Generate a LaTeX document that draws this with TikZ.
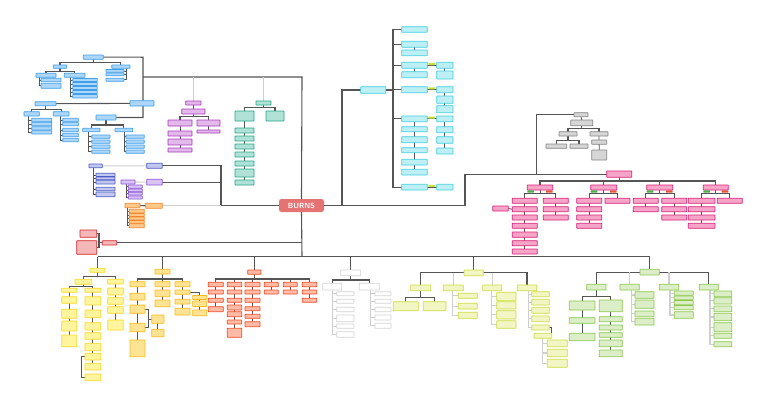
\documentclass[tikz,border=0pt]{standalone}
\usetikzlibrary{fit,backgrounds}
\definecolor{lnD}{HTML}{555555}
\definecolor{lnL}{HTML}{CFCFCF}
\definecolor{blF}{HTML}{ADD6F7}\definecolor{blD}{HTML}{3E9FEA}
\definecolor{puF}{HTML}{E3B8EA}\definecolor{puD}{HTML}{A93BBF}
\definecolor{teF}{HTML}{B0E2D7}\definecolor{teD}{HTML}{23A887}
\definecolor{cyF}{HTML}{BDEFF5}\definecolor{cyD}{HTML}{3FCFE0}
\definecolor{grF}{HTML}{D6D6D6}\definecolor{grD}{HTML}{858585}
\definecolor{piF}{HTML}{F5A6C8}\definecolor{piD}{HTML}{DD1F78}
\definecolor{inF}{HTML}{C2C7EE}\definecolor{inD}{HTML}{4B5AC8}
\definecolor{viF}{HTML}{D8C3F2}\definecolor{viD}{HTML}{8A55D6}
\definecolor{orF}{HTML}{FFC98A}\definecolor{orD}{HTML}{F0862A}
\definecolor{reF}{HTML}{F5B8B8}\definecolor{reD}{HTML}{D6262B}
\definecolor{yeF}{HTML}{FFF59E}\definecolor{yeD}{HTML}{F7D820}
\definecolor{goF}{HTML}{FFE395}\definecolor{goD}{HTML}{F8BB14}
\definecolor{roF}{HTML}{FFBBA6}\definecolor{roD}{HTML}{F04C24}
\definecolor{whD}{HTML}{D3D3D3}
\definecolor{liF}{HTML}{F1F6C4}\definecolor{liD}{HTML}{CEDD3C}
\definecolor{gnF}{HTML}{DCEEC8}\definecolor{gnD}{HTML}{8CC84B}
\definecolor{buF}{HTML}{E57373}
\definecolor{tagY}{HTML}{C8E03A}
\definecolor{tagG}{HTML}{4CAF50}
\definecolor{tagR}{HTML}{E5563A}
\tikzset{
 bx/.style={inner sep=0pt, outer sep=0pt, line width=0.75pt, rounded corners=0.4pt},
 sBl/.style={bx, draw=blD, fill=blF},
 sPu/.style={bx, draw=puD, fill=puF},
 sTe/.style={bx, draw=teD, fill=teF},
 sCy/.style={bx, draw=cyD, fill=cyF},
 sGr/.style={bx, draw=grD, fill=grF},
 sPi/.style={bx, draw=piD, fill=piF},
 sIn/.style={bx, draw=inD, fill=inF},
 sVi/.style={bx, draw=viD, fill=viF},
 sOr/.style={bx, draw=orD, fill=orF},
 sRe/.style={bx, draw=reD, fill=reF},
 sYe/.style={bx, draw=yeD, fill=yeF},
 sGo/.style={bx, draw=goD, fill=goF},
 sRo/.style={bx, draw=roD, fill=roF},
 sWh/.style={bx, draw=whD, fill=white},
 sLi/.style={bx, draw=liD, fill=liF},
 sGn/.style={bx, draw=gnD, fill=gnF},
 sTY/.style={bx, fill=tagY},
 sTG/.style={bx, fill=tagG},
 sTR/.style={bx, fill=tagR},
 dk/.style={draw=lnD, line width=1.1pt},
 lt/.style={draw=lnL, line width=1.1pt},
 th/.style={draw=lnD, line width=0.8pt},
}
% box: name, style, x1, y1, x2, y2
\newcommand\Bx[6]{\node[#2, fit={(#3,#4)(#5,#6)}] (#1) {};}
% column: style, prefix, x1, x2, list y1/y2
\newcommand\Col[5]{\foreach \ya/\yb [count=\nn] in {#5}{\node[#1, fit={(#3,\ya)(#4,\yb)}] (#2-\nn) {};}}
\newcommand\Fork[4]{\foreach \fkc in {#4}{\draw[#1] (#2.south) -- ++(0,#3) -| (\fkc.north);}}
\newcommand\Chain[3]{\draw[#1] (#2.south) -- (#3.north);}
\newcommand\SpL[5]{\foreach \kk in {1,...,#4}{\draw[#1] (#2.south) ++(#5,0) |- (#3-\kk.west);}}
\newcommand\SpR[5]{\foreach \kk in {1,...,#4}{\draw[#1] (#2.south) ++(#5,0) |- (#3-\kk.east);}}
\begin{document}
\begin{tikzpicture}[x=1pt,y=-1pt]
\useasboundingbox (0,0) rectangle (768,402);
% ---------------- central
\node[fill=buF, rounded corners=2.5pt, text=white, font=\sffamily\bfseries\fontsize{7.5}{8}\selectfont, inner sep=0pt, minimum width=45pt, minimum height=13pt] (bu) at (301.5,205.5) {BURNS};
\coordinate (jTop) at (302,77);
\coordinate (jL) at (221,205.5);
\coordinate (jBar) at (302,256.5);
% ---------------- blue
\Bx{b0}{sBl}{130}{100.7}{154}{106}
\Bx{bT}{sBl}{83.3}{55}{103.3}{59.3}
\Bx{bL}{sBl}{35}{101.7}{56}{105.7}
\Bx{bB}{sBl}{96}{115}{116}{120}
\Bx{bTa}{sBl}{53.3}{65}{66.7}{68.3}
\Bx{bTb}{sBl}{111.7}{65}{130}{68.3}
\Bx{bTa1}{sBl}{36}{73.3}{56}{77.3}
\Bx{bTa2}{sBl}{64.3}{73.3}{85}{77.3}
\Col{sBl}{bTa1}{41}{61}{78.3/81.7,83.3/88.3}
\Col{sBl}{bTa2}{72.7}{97.3}{78.5/81.5,82.5/85.5,86.5/89.5,90.5/93.5,94.5/98}
\Col{sBl}{bTb}{106}{124}{69.5/72.3,73/75.8,78.3/81.3}
\Bx{bLa}{sBl}{24}{111.7}{39.3}{116}
\Bx{bLb}{sBl}{53.3}{111.7}{69}{116}
\Col{sBl}{bLa}{31.7}{51.7}{118.3/121.7,122.3/125.7,126.7/130,130.7/134}
\Col{sBl}{bLb}{62.7}{78.3}{118.3/121.7,122.3/125.7,128.3/131.7,133.3/136.7,138.3/141.7}
\Bx{bBa}{sBl}{82.7}{128.3}{100}{131.7}
\Bx{bBb}{sBl}{115}{128.3}{132.7}{131.7}
\Col{sBl}{bBa}{91.7}{110}{135/138.3,140/143.3,145/148.3,150/153.3}
\Col{sBl}{bBb}{126}{144.3}{135/138.3,140/143.3,145/148.3,150/153.3}
% ---------------- purple
\Bx{pA}{sPu}{185.7}{101}{201}{105}
\Bx{pB}{sPu}{181.7}{109}{205}{114}
\Bx{pC}{sPu}{168}{120}{192}{126}
\Bx{pD}{sPu}{197}{120}{220}{126}
\Col{sPu}{pC}{168}{192}{131/136,139/145,148/152}
\Col{sPu}{pD}{197}{220}{130/133}
% ---------------- teal
\Bx{tA}{sTe}{256}{101}{271}{105}
\Bx{tB}{sTe}{235}{111}{254}{121}
\Bx{tC}{sTe}{266}{111}{284}{121}
\Col{sTe}{tB}{235}{254}{128/133,136/141,144/149,152/157,161/166,169/177,180/185}
% ---------------- cyan
\Bx{c0}{sCy}{360.7}{86.7}{385.7}{93.3}
\Bx{c1}{sCy}{401.7}{26.7}{427.3}{32.3}
\Bx{c2}{sCy}{401.7}{41.3}{427.3}{47.3}
\Col{sCy}{c2}{401.7}{427.3}{50/55.7}
\Bx{c3}{sCy}{401.7}{62.3}{427.3}{68.3}
\Col{sCy}{c3}{401.7}{427.3}{71.7/77.7}
\Bx{c4}{sCy}{401.7}{86.7}{427.3}{92.7}
\Bx{c5}{sCy}{401.7}{116}{427.3}{121.7}
\Col{sCy}{c5}{401.7}{427.3}{126.7/131.7,136.7/142.7,147.7/152.7,159.3/165,169.3/175}
\Bx{c6}{sCy}{401.7}{184.3}{427.3}{190}
\Bx{r3}{sCy}{436.7}{62.3}{453}{68.3}
\Col{sCy}{r3}{436.7}{453}{71/79}
\Bx{r4}{sCy}{436.7}{86.7}{453}{92.7}
\Col{sCy}{r4}{436.7}{453}{96/103.3,105.7/112.7}
\Bx{r5}{sCy}{436.7}{116}{453}{121.7}
\Col{sCy}{r5}{436.7}{453}{126.7/132.7,136.7/143.3,148/154}
\Bx{r6}{sCy}{436.7}{184.3}{453}{190}
% ---------------- gray
\Bx{g0}{sGr}{574}{112.7}{588}{116.7}
\Bx{g1}{sGr}{570.7}{120}{592.7}{125.7}
\Bx{g2}{sGr}{559}{131.7}{577}{136}
\Bx{g3}{sGr}{590}{131.7}{608}{136}
\Bx{g2a}{sGr}{546}{144}{566.7}{148.3}
\Bx{g2b}{sGr}{570}{144}{588}{148.3}
\Col{sGr}{g3}{591.7}{606.7}{140/144.3,150/160}
% ---------------- pink
\Bx{k0}{sPi}{606.7}{171}{631.7}{177.3}
\Bx{k1}{sPi}{527.3}{185}{552.7}{190}
\Bx{k2}{sPi}{590.7}{185}{616.7}{190}
\Bx{k3}{sPi}{646.7}{185}{672.7}{190}
\Bx{k4}{sPi}{703.3}{185}{728.3}{190}
\Col{sPi}{k1L}{512.3}{537.3}{198.3/203.3,206.7/211.7,215/220,223.3/228.3,232/237.3,240.7/245.7,249/254}
\Col{sPi}{k1R}{543.3}{568.3}{198.3/203.3,206.7/211.7,215/220}
\Bx{kx}{sPi}{492.7}{206}{508.3}{211}
\Col{sPi}{k2L}{576.7}{601.7}{198.3/203.3,206.7/211.7,215/220,223.3/228.3}
\Col{sPi}{k2R}{605}{630}{198.3/203.3}
\Col{sPi}{k3L}{633.3}{658.3}{198.3/203.3,206.7/211.7}
\Col{sPi}{k3R}{661.7}{686.7}{198.3/203.3,206.7/211.7,215/220}
\Col{sPi}{k4L}{688.3}{715}{198.3/203.3,206.7/211.7,215/220,223.3/228.3}
\Col{sPi}{k4R}{717.3}{742.3}{198.3/203.3}
% ---------------- left side
\Bx{i0}{sIn}{89}{164}{102.3}{167.7}
\Bx{i1}{sIn}{146.7}{163.3}{162.3}{168.3}
\Col{sIn}{i0}{96}{115}{173.3/176.5,177/179.7,180.3/184,187.3/190.7,192/196.7}
\Bx{v0}{sVi}{121}{180}{135}{184}
\Bx{v1}{sVi}{146.7}{179.3}{162.3}{185}
\Col{sVi}{v0}{128.3}{142.3}{185/188.3,189/191.7,192.3/195,196/199}
\Bx{o0}{sOr}{125}{203.3}{140}{207.7}
\Bx{o1}{sOr}{145.7}{203.3}{162.3}{208.3}
\Col{sOr}{o0}{129.3}{144.3}{209.3/213,213.5/216.5,217/220,220.5/223.3,223.8/227.7}
\Bx{r0}{sRe}{80}{230}{96.7}{237.3}
\Bx{r1}{sRe}{76.7}{240.7}{96.7}{254.3}
\Bx{r2}{sRe}{102.3}{240.7}{116.7}{245}
% ---------------- yellow
\Bx{yA}{sYe}{90}{268.3}{105}{272.3}
\Bx{yA1}{sYe}{75}{279.3}{91.7}{284.3}
\Bx{yA2}{sYe}{107.7}{279.3}{123.3}{284}
\Bx{yA1a}{sYe}{61.7}{288.3}{76.7}{292.3}
\Bx{yA1b}{sYe}{85}{288.3}{100.7}{292.3}
\Col{sYe}{yA1a}{61.7}{76.7}{296.7/303.3,309.3/318.3,321/331,335/346.7}
\Col{sYe}{yA1b}{85}{100.7}{296.7/305,310/317.7,322.7/330,332.7/339.3,343.3/350.7,353.3/360,363.3/370,374/380.7}
\Col{sYe}{yA2}{107.7}{123.3}{288/295,297.7/304.3,306.7/313.3,320/330}
% ---------------- gold
\Bx{yB}{sGo}{155}{269.3}{170}{274}
\Bx{yB1}{sGo}{130}{281.7}{145}{286.7}
\Bx{yB2}{sGo}{155}{281.7}{170}{286.7}
\Bx{yB3}{sGo}{175}{281.7}{190}{286.7}
\Col{sGo}{yB1}{130}{145}{293.3/300,305/313.3,323.3/331.7,340/356.7}
\Col{sGo}{yB2}{155}{170}{290/296.7,300/306.7}
\Col{sGo}{yB3}{175}{190}{290/294.3,299.3/304,308.3/315}
\Bx{s1}{sGo}{151.7}{315}{164}{323.3}
\Bx{s2}{sGo}{151.7}{329.3}{164}{336.7}
\Bx{s3}{sGo}{192.7}{295.5}{206.7}{299.5}
\Col{sGo}{s3}{192.7}{206.7}{301/306.5,310/315.7}
% ---------------- red-orange
\Bx{ro}{sRo}{247.7}{270}{261}{274.3}
\Bx{ro1}{sRo}{208.3}{282.3}{223.3}{286.7}
\Bx{ro2}{sRo}{227.3}{282.3}{241.7}{286.7}
\Bx{ro3}{sRo}{245}{282.3}{260}{286.7}
\Bx{ro4}{sRo}{264.3}{282.3}{278.3}{286.7}
\Bx{ro5}{sRo}{283.3}{282.3}{297.3}{286.7}
\Bx{ro6}{sRo}{302.3}{282.3}{316.7}{286.7}
\Col{sRo}{ro1}{208.3}{223.3}{290/294,298.3/302.3,306.7/311.7}
\Col{sRo}{ro2}{227.3}{241.7}{290/294,298.3/302.3,305/310,311.7/316.7,320/324,328.3/337.3}
\Col{sRo}{ro3}{245}{260}{290/294,298.3/302.3,306.7/310.7,314.3/318.3,321.7/326.7}
\Col{sRo}{ro4}{264.3}{278.3}{290/294}
\Col{sRo}{ro5}{283.3}{297.3}{290/294}
\Col{sRo}{ro6}{302.3}{316.7}{290/294,298.3/302.3}
% ---------------- white
\Bx{wh}{sWh}{340.7}{270}{360.7}{275.7}
\Bx{wh1}{sWh}{322.7}{283.3}{341.7}{290}
\Bx{wh2}{sWh}{359.3}{283.3}{379.3}{290}
\Col{sWh}{wh1}{336.7}{354}{291.7/295.7,299.3/303.3,307.3/311.7,315/321.7,324/328.3,331.7/337.3}
\Col{sWh}{wh2}{375}{391}{291.7/295.7,299.3/303.3,307.3/311.7,315/320,323.3/328.3}
% ---------------- lime
\Bx{lm}{sLi}{464}{270}{483.3}{275.7}
\Bx{lm1}{sLi}{410.7}{285}{430.7}{290.7}
\Bx{lm2}{sLi}{443.3}{285}{463.3}{290.7}
\Bx{lm3}{sLi}{482.7}{285}{501.7}{290.7}
\Bx{lm4}{sLi}{517.3}{285}{536.7}{290.7}
\Bx{lm1a}{sLi}{393.3}{301.7}{418.3}{310.7}
\Bx{lm1b}{sLi}{423.3}{301.7}{446}{310.7}
\Col{sLi}{lm2}{458.3}{477.3}{293.3/298.3,303.3/309,312.3/318.3}
\Col{sLi}{lm3}{496.7}{516}{292.3/300.7,301.7/309,310.7/319,320.7/328.3}
\Col{sLi}{lm4}{531.7}{549.3}{291.7/296.7,299.3/305,307.3/313.3,316/321.7,325/330}
\Bx{lm5}{sLi}{534}{333.3}{551.7}{338.3}
\Col{sLi}{lm5}{547.3}{567.3}{340/346.7,349.3/356.7,359.3/367.3}
% ---------------- green
\Bx{gr}{sGn}{640}{269.3}{659.3}{275}
\Bx{gr1}{sGn}{586.7}{284.3}{606}{290}
\Bx{gr2}{sGn}{620}{284.3}{639.3}{290}
\Bx{gr3}{sGn}{659.3}{284.3}{678.7}{290}
\Bx{gr4}{sGn}{699.3}{284.3}{718.3}{290}
\Bx{gr1a}{sGn}{569.3}{301}{595}{310}
\Bx{gr1b}{sGn}{599.3}{300}{622.3}{311.7}
\Col{sGn}{gr1a}{569.3}{595}{317.7/323.3,333.3/340.7}
\Col{sGn}{gr1b}{599.3}{622.3}{316.7/321.7,325/330,332.7/337.3,340/346.7,350/356.7}
\Col{sGn}{gr2}{635}{654}{291.7/298.3,300/308.3,311/316.7,318.3/325}
\Col{sGn}{gr3}{674.3}{693.3}{291/295.3,296/299.7,300.5/304.7,305.5/309.7,311.7/318.3}
\Col{sGn}{gr4}{714}{731.7}{291/296.7,297.7/304,306/311.7,313.3/320.7,322.7/331.7,333.3/338.3,341.7/346.7}
% ---------------- tags
\Bx{ty3}{sTY}{428.3}{62.9}{435.3}{65}
\Bx{ty4}{sTY}{428.3}{87.3}{435.3}{89.4}
\Bx{ty5}{sTY}{428.3}{116.5}{435.3}{118.6}
\Bx{ty6}{sTY}{428.3}{184.8}{435.3}{186.9}
\Bx{tg1}{sTG}{527.3}{190.4}{534}{192.5}\Bx{tr1}{sTR}{546}{190.4}{552.7}{192.5}
\Bx{tg2}{sTG}{590.7}{190.4}{597.4}{192.5}\Bx{tr2}{sTR}{610}{190.4}{616.7}{192.5}
\Bx{tg3}{sTG}{646.7}{190.4}{653.4}{192.5}\Bx{tr3}{sTR}{666}{190.4}{672.7}{192.5}
\Bx{tg4}{sTG}{703.3}{190.4}{710}{192.5}\Bx{tr4}{sTR}{721.6}{190.4}{728.3}{192.5}
% ================= connectors
\begin{scope}[on background layer]
% trunk
\draw[dk] (143,77) -- (jTop) -- (bu.north);
\draw[dk] (bu.south) -- (jBar);
\draw[dk] (97.5,256.5) -- (649.7,256.5);
\foreach \n in {yA,yB,ro,wh,lm,gr}{\draw[dk] (\n.north |- jBar) -- (\n.north);}
% blue
\draw[dk] (bT.east) -- (143,57.2) -- (143,117.5) -- (bB.east);
\draw[dk] (bL.east) -- (b0.west);
\Fork{dk}{bT}{3.4}{bTa,bTb}
\Fork{dk}{bTa}{3.4}{bTa1,bTa2}
\SpL{th}{bTa1}{bTa1}{2}{-6.7}
\SpL{th}{bTa2}{bTa2}{5}{-4.65}
\SpR{th}{bTb}{bTb}{3}{5.85}
\Fork{dk}{bL}{3.6}{bLa,bLb}
\SpL{th}{bLa}{bLa}{4}{-3.35}
\SpL{th}{bLb}{bLb}{5}{-1.15}
\Fork{dk}{bB}{5}{bBa,bBb}
\SpL{th}{bBa}{bBa}{4}{-3.05}
\SpL{th}{bBb}{bBb}{4}{0.15}
% purple, teal
\draw[lt] (pA.north) -- (pA.north |- jTop);
\Chain{th}{pA}{pB}
\Fork{dk}{pB}{2.7}{pC,pD}
\Chain{th}{pC}{pC-3}
\Chain{th}{pD}{pD-1}
\draw[lt] (tA.north) -- (tA.north |- jTop);
\Fork{dk}{tA}{2.7}{tB,tC}
\Chain{th}{tB}{tB-7}
% cyan
\coordinate (jC) at (393,90);
\draw[dk] (342,205.5) |- (c0.west);
\draw[dk] (c0.east) -- (jC);
\foreach \n in {c1,c2,c3,c4,c5,c6}{\draw[dk] (jC) |- (\n.west);}
\Chain{th}{c2}{c2-1}
\Chain{th}{c3}{c3-1}
\Chain{th}{c5}{c5-5}
\Chain{th}{r3}{r3-1}
\Chain{th}{r4}{r4-2}
\Chain{th}{r5}{r5-3}
\foreach \n in {3,4,5,6}{\draw[dk] (c\n.east) -- (r\n.west);}
% right: gray and pink
\draw[dk] (bu.east) -- (465,205.5) |- (k0.west);
\draw[dk] (536.7,174.15) |- (g0.west);
\Chain{th}{g0}{g1}
\Fork{dk}{g1}{3}{g2,g3}
\Fork{dk}{g2}{4.7}{g2a,g2b}
\Chain{th}{g3}{g3-2}
\Fork{dk}{k0}{3.7}{k1,k2,k3,k4}
\Fork{th}{k1}{3.5}{k1L-1,k1R-1}
\Fork{th}{k2}{3.5}{k2L-1,k2R-1}
\Fork{th}{k3}{3.5}{k3L-1,k3R-1}
\Fork{th}{k4}{3.5}{k4L-1,k4R-1}
\Chain{th}{k1L-1}{k1L-7}
\Chain{th}{k1R-1}{k1R-3}
\Chain{th}{k2L-1}{k2L-4}
\Chain{th}{k3L-1}{k3L-2}
\Chain{th}{k3R-1}{k3R-3}
\Chain{th}{k4L-1}{k4L-4}
\draw[th] (kx.east) -- (k1L-2.west);
% left side
\draw[dk] (i1.east) -- (i1.east -| jL) -- (jL) -- (bu.west);
\draw[dk] (v1.east) -- (v1.east -| jL);
\draw[lt] (o1.east) -- (o1.east -| jL);
\draw[lt] (i0.east) -- (i1.west);
\draw[lt] (v0.east) -- (v1.west);
\draw[dk] (o0.east) -- (o1.west);
\SpL{th}{i0}{i0}{5}{-2.35}
\SpL{th}{v0}{v0}{4}{-2}
\SpL{th}{o0}{o0}{5}{-4.8}
\draw[dk] (r0.east) -- ++(2.3,0) |- (r2.west);
\draw[dk] (r1.east) -- ++(2.3,0) |- (r2.west);
\draw[dk] (r2.east) -- (r2.east -| bu.south);
% yellow
\Fork{dk}{yA}{4.4}{yA1,yA2}
\Fork{dk}{yA1}{2.4}{yA1a,yA1b}
\Chain{th}{yA1a}{yA1a-4}
\Chain{th}{yA1b}{yA1b-7}
\draw[th] (yA1b-6.west) -- ++(-3.3,0) |- (yA1b-8.west);
\Chain{th}{yA2}{yA2-4}
% gold
\Fork{dk}{yB}{5}{yB1,yB2,yB3}
\Chain{th}{yB1}{yB1-4}
\Chain{th}{yB2}{yB2-2}
\Chain{th}{yB3}{yB3-3}
\draw[th] (yB1-2.east) -- ++(3.3,0) |- (yB1-3.east);
\draw[th] (s1.west) -- ++(-3.4,0);
\Chain{th}{s1}{s2}
\draw[th] (yB3-1.east) -| (s3.north);
\Chain{th}{s3}{s3-2}
% red-orange
\Fork{dk}{ro}{4.7}{ro1,ro2,ro3,ro4,ro5,ro6}
\Chain{th}{ro1}{ro1-3}
\Chain{th}{ro2}{ro2-6}
\Chain{th}{ro3}{ro3-5}
\Chain{th}{ro4}{ro4-1}
\Chain{th}{ro5}{ro5-1}
\Chain{th}{ro6}{ro6-2}
% white
\Fork{dk}{wh}{4.3}{wh1,wh2}
\SpL{lt}{wh1}{wh1}{6}{0.5}
\SpL{lt}{wh2}{wh2}{5}{1.4}
% lime
\draw[dk] (lm.west) -| (lm1.north);
\draw[dk] (lm.east) -| (lm4.north);
\draw[lt] (lm.west -| lm2.north) -- (lm2.north);
\draw[lt] (lm.east -| lm3.north) -- (lm3.north);
\Fork{dk}{lm1}{6.6}{lm1a,lm1b}
\SpL{lt}{lm2}{lm2}{3}{-0.6}
\SpL{lt}{lm3}{lm3}{4}{-0.5}
\SpL{lt}{lm4}{lm4}{5}{1.3}
\draw[dk] (lm4-5.east) -| (lm5.north east);
\SpL{lt}{lm5}{lm5}{3}{-0.15}
% green
\draw[dk] (gr.west) -| (gr1.north);
\draw[dk] (gr.east) -| (gr4.north);
\draw[lt] (gr.west -| gr2.north) -- (gr2.north);
\draw[lt] (gr.east -| gr3.north) -- (gr3.north);
\Fork{dk}{gr1}{6.7}{gr1a,gr1b}
\Chain{th}{gr1a}{gr1a-2}
\Chain{th}{gr1b}{gr1b-5}
\SpL{lt}{gr2}{gr2}{4}{2}
\SpL{lt}{gr3}{gr3}{5}{1}
\SpL{lt}{gr4}{gr4}{7}{1.2}
\end{scope}
\end{tikzpicture}
\end{document}
